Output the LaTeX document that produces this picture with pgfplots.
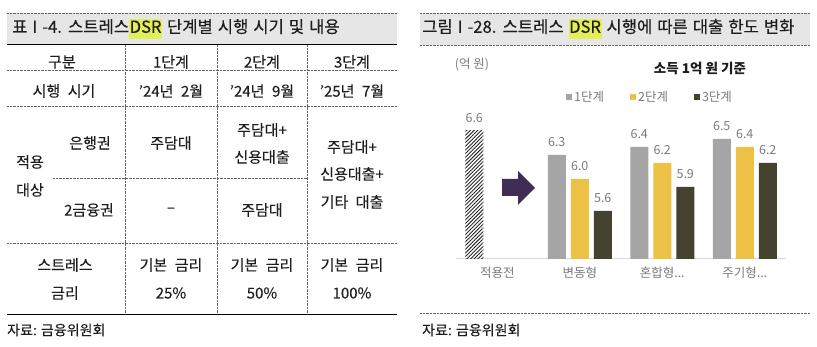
\documentclass[border=0pt]{standalone}
\usepackage{pgfplots}
\pgfplotsset{compat=1.18}
\usetikzlibrary{patterns.meta}
\usepackage{fontspec}
\setmainfont{Noto Sans CJK KR}
\newfontfamily\krb{Noto Sans CJK KR}[FakeBold=0.15]
\definecolor{cgray}{HTML}{A5A5A5}
\definecolor{cyel}{HTML}{EDC145}
\definecolor{cdark}{HTML}{454230}
\definecolor{carrow}{HTML}{3F2D55}
\definecolor{band}{HTML}{E6E6E6}
\definecolor{hl}{HTML}{E3EE5A}
\definecolor{txt}{HTML}{1E1E1E}
\definecolor{lbl}{HTML}{7A7A7A}
\newcommand\tfont{\krb\fontsize{15}{17}\selectfont\spaceskip=0.5em\relax}
\newcommand\hfont{\krb\fontsize{16.6}{19}\selectfont\spaceskip=0.3em\relax}
\newcommand\sfont{\krb\fontsize{14}{16}\selectfont}
\newcommand\cfont{\fontsize{12.5}{14}\selectfont}
\newcommand\hlt[1]{{\setlength\fboxsep{0.5pt}\colorbox{hl}{\strut #1}}}
\newcommand\threedots{.{}.{}.}
\begin{document}
\begin{tikzpicture}
\path[use as bounding box] (0,0) rectangle (817pt,347pt);
\begin{scope}[x=1pt,y=-1pt,shift={(0pt,347pt)}]
% ---------- left table ----------
\fill[band] (7,13) rectangle (397,45);
\draw[black!60, densely dotted] (7,13) -- (397,13);
\draw[black, line width=1pt] (7,45) -- (397,45);
\node[anchor=west, txt, font=\hfont, inner sep=0pt] at (12,29) {표 I -4. 스트레스\hlt{DSR} 단계별 시행 시기 및 내용};
\foreach \yy in {70,106,243} \draw[black!60, densely dotted] (7,\yy) -- (397,\yy);
\draw[black!60, densely dotted] (53,178) -- (307,178);
\foreach \xx in {125,217,307} \draw[black!60, densely dotted] (\xx,45) -- (\xx,315);
\draw[black, line width=1pt] (7,315) -- (397,315);
\begin{scope}[every node/.style={txt, font=\tfont, inner sep=0pt}]
\node at (62,62) {구분};
\node at (171,62) {1단계};
\node at (262,62) {2단계};
\node at (352,62) {3단계};
\node at (64,91) {시행 시기};
\node at (171,91) {’24년 2월};
\node at (262,91) {’24년 9월};
\node at (352,91) {’25년 7월};
\node at (30,162) {적용};
\node at (30,190) {대상};
\node at (90,143) {은행권};
\node at (89,210) {2금융권};
\node at (171,143) {주담대};
\node at (171,210) {–};
\node at (262,130) {주담대+};
\node at (262,157) {신용대출};
\node at (262,210) {주담대};
\node at (352,147) {주담대+};
\node at (352,174) {신용대출+};
\node at (352,202) {기타 대출};
\node at (65,265) {스트레스};
\node at (65,293) {금리};
\node at (171,265) {기본 금리};
\node at (262,265) {기본 금리};
\node at (352,265) {기본 금리};
\node at (171,293) {25\%};
\node at (262,293) {50\%};
\node at (352,293) {100\%};
\end{scope}
\node[anchor=west, txt, font=\sfont, inner sep=0pt] at (7,330) {자료: 금융위원회};
% ---------- right panel ----------
\fill[band] (420,13) rectangle (810,45);
\draw[black!60, densely dotted] (420,13) -- (810,13);
\draw[black!60, densely dotted] (420,45) -- (810,45);
\node[anchor=west, txt, font=\hfont, inner sep=0pt] at (422,29) {그림 I -28. 스트레스 \hlt{DSR} 시행에 따른 대출 한도 변화};
\node[lbl, font=\cfont, inner sep=0pt] at (472,65) {(억 원)};
\node[txt, font=\fontsize{13.5}{15}\selectfont\bfseries, inner sep=0pt] at (700,68) {소득 1억 원 기준};
\fill[carrow] (502,179) -- (518,179) -- (518,171) -- (535,188) -- (518,205) -- (518,196) -- (502,196) -- cycle;
\draw[black!60, densely dotted] (420,313) -- (810,313);
\node[anchor=west, txt, font=\sfont, inner sep=0pt] at (422,330) {자료: 금융위원회};
\end{scope}
\begin{axis}[
  at={(456pt,88pt)}, anchor=south west,
  scale only axis, width=330pt, height=144pt,
  xmin=-0.5, xmax=3.5, ymin=5, ymax=6.8,
  axis y line=none, axis x line*=bottom,
  x axis line style={draw=black!15, line width=1pt, -},
  ytick=\empty,
  xtick={0,1,2,3},
  xticklabels={적용전,변동형,{혼합형\threedots},{주기형\threedots}},
  major tick length=0pt,
  xticklabel style={font=\fontsize{12.5}{14}\selectfont, text=lbl, yshift=-5pt},
  ybar, bar width=18pt,
  nodes near coords,
  nodes near coords style={font=\cfont, text=lbl, yshift=5pt},
  /pgf/number format/fixed,
  /pgf/number format/fixed zerofill,
  /pgf/number format/precision=1,
  /pgf/number format/assume math mode=true,
  legend image code/.code={\fill[#1] (0pt,-3pt) rectangle (6pt,3pt);},
  legend style={at={(0.324,1.125)}, anchor=west, draw=none, fill=none,
    legend columns=3, font=\cfont, text=lbl,
    /tikz/every even column/.append style={column sep=24pt}},
]
\addplot[forget plot, bar shift=-23pt, pattern={Lines[angle=45,distance=2.6pt,line width=0.9pt]}, pattern color=black!85, draw=none] coordinates {(0,6.6)};
\addplot[bar shift=-23pt, fill=cgray, draw=none] coordinates {(1,6.3) (2,6.4) (3,6.5)};
\addplot[bar shift=0pt, fill=cyel, draw=none] coordinates {(1,6.0) (2,6.2) (3,6.4)};
\addplot[bar shift=23pt, fill=cdark, draw=none] coordinates {(1,5.6) (2,5.9) (3,6.2)};
\legend{1단계,2단계,3단계}
\end{axis}
\end{tikzpicture}
\end{document}
